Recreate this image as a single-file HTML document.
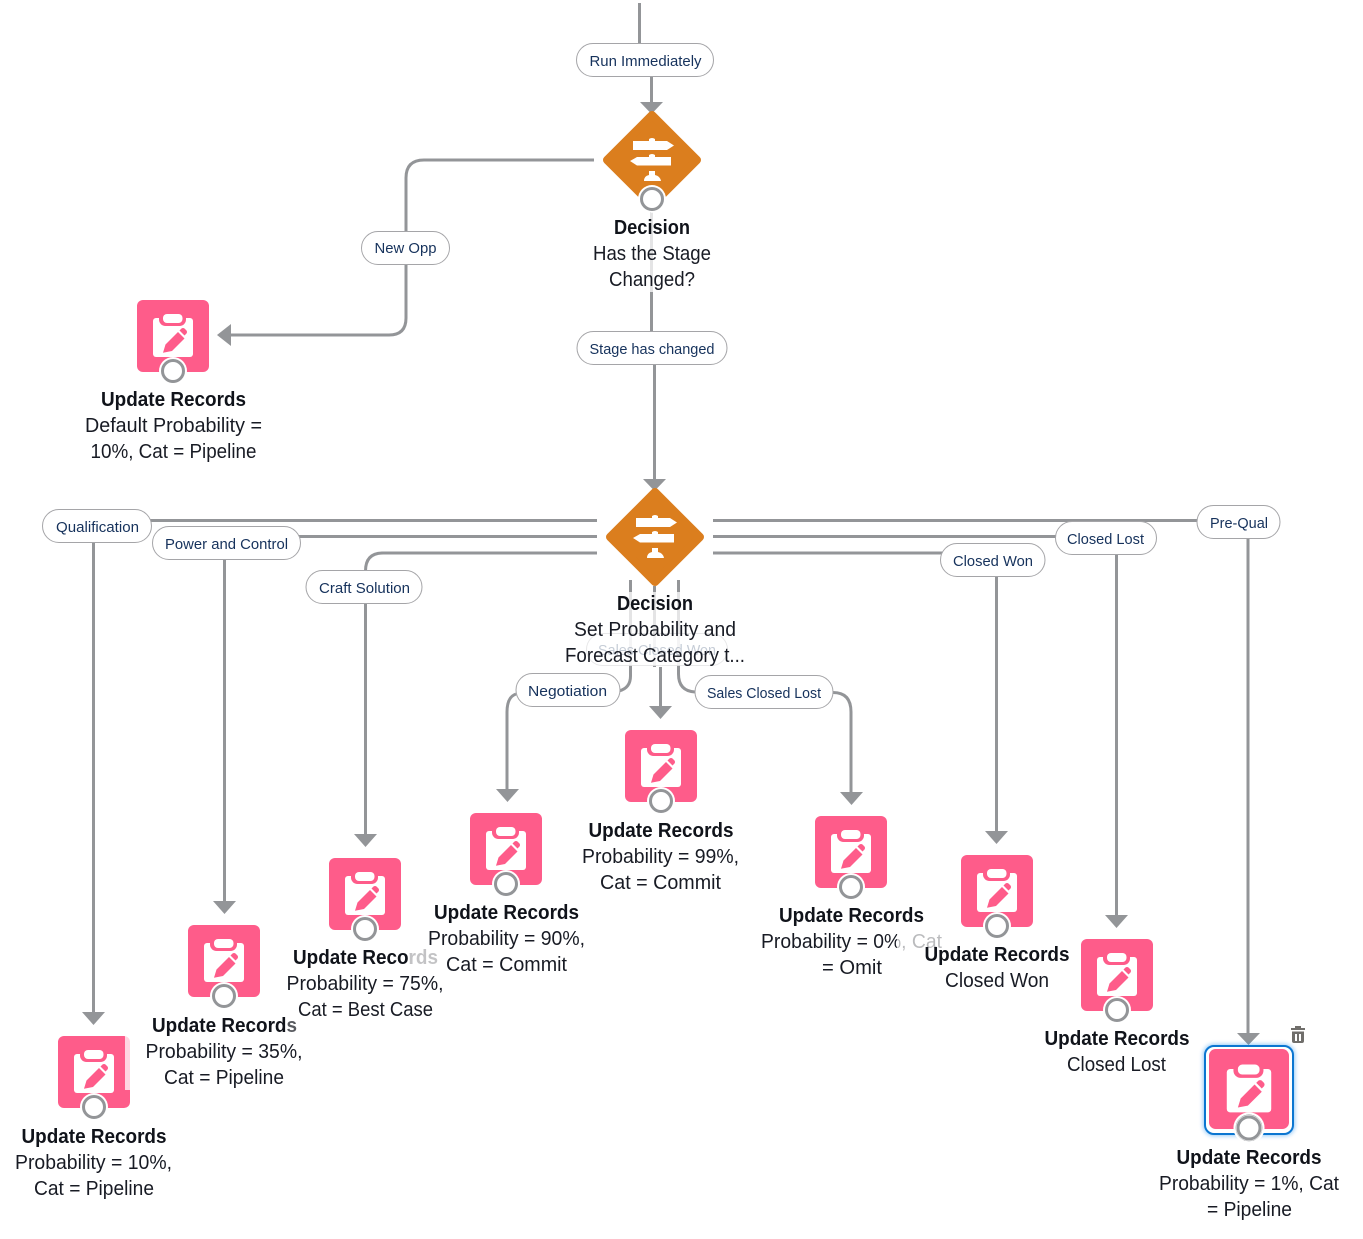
<!DOCTYPE html>
<html><head><meta charset="utf-8"><style>
html,body{margin:0;padding:0;background:#fff}
svg{display:block}
text{font-family:"Liberation Sans",sans-serif}
.n{font-size:20px;fill:#181b24;text-anchor:middle}
.b{font-size:20px;font-weight:bold;fill:#10131a;text-anchor:middle}
.p{font-size:14.5px;fill:#16325c;text-anchor:middle}
.c{fill:none;stroke:#939598;stroke-width:3}
.a{fill:#939598}
.pill{fill:#fff;stroke:#a5a5a8;stroke-width:1}
</style></head><body>
<svg width="1363" height="1239" viewBox="0 0 1363 1239" xmlns="http://www.w3.org/2000/svg">
<defs>
<filter id="gl" x="-20%" y="-20%" width="140%" height="140%"><feGaussianBlur stdDeviation="2"/></filter>
<g id="ic">
<rect width="72" height="72" rx="6" fill="#fe5c8a"/>
<rect x="16" y="18" width="40" height="39" rx="3" fill="#fff"/>
<rect x="22" y="10" width="27" height="16" rx="6.500" fill="#fe5c8a"/>
<rect x="26" y="14" width="19.500" height="9" rx="4" fill="#fff"/>
<path d="M26 52.700 L28.500 44.500 L41 32 L47.500 38.500 L35 51 Z" fill="#fe5c8a"/>
<path d="M42.500 30.500 L44.500 28.500 Q46 27.500 47.500 28.500 L49.500 30.500 Q50.500 32 49.500 33.500 L47.500 35.500 Z" fill="#fe5c8a"/>
<circle cx="36" cy="71" r="14" fill="#fff"/>
<circle cx="36" cy="71" r="10.500" fill="#fff" stroke="#939598" stroke-width="3"/>
</g>
<g id="dm">
<polygon points="0,-45 45,0 0,45 -45,0" fill="#db7e1e" stroke="#db7e1e" stroke-width="8" stroke-linejoin="round"/>
<path d="M-19 -19 H-3 V-21 Q0 -23 3 -21 V-19 H15 L22 -14.500 L15 -10 H-19 Z" fill="#fff"/>
<path d="M-15 -3 H-3 V-5 Q0 -7 3 -5 V-3 H19 V5.500 H-15 L-22 1 Z" fill="#fff"/>
<path d="M-3 11 H3 V15 Q8 16 9 21 H-8 Q-8 16 -3 15 Z" fill="#fff"/>
</g>
</defs>

<!-- connectors -->
<path class="c" d="M639.500 3 V44"/>
<path class="c" d="M651.500 76 V104"/>
<polygon class="a" points="640,102 663,102 651.500,114"/>
<path class="c" d="M594 160 H424 Q406 160 406 178 V318 Q406 335 389 335 H230"/>
<polygon class="a" points="217,335 231,324 231,346"/>
<path class="c" d="M651.500 208 V332" />
<path class="c" d="M654.500 364 V480"/>
<polygon class="a" points="643,479 666,479 654.500,491"/>

<path class="c" d="M597 520.500 H100 M597 536.500 H230 M597 553 H383 Q365.500 553 365.500 571"/>
<path class="c" d="M93.500 542 V1013"/>
<polygon class="a" points="82,1012 105,1012 93.500,1025"/>
<path class="c" d="M224.500 559 V902"/>
<polygon class="a" points="213,901 236,901 224.500,914"/>
<path class="c" d="M365.500 603 V835"/>
<polygon class="a" points="354,834 377,834 365.500,847"/>

<path class="c" d="M713 520.500 H1248 V1034"/>
<polygon class="a" points="1237,1033 1260,1033 1248.500,1045"/>
<path class="c" d="M713 536.500 H1116.500 V916"/>
<polygon class="a" points="1105,915 1128,915 1116.500,928"/>
<path class="c" d="M713 553 H996.500 V832"/>
<polygon class="a" points="985,831 1008,831 996.500,844"/>

<path class="c" d="M630.500 580 V676 Q630.500 688 619 691"/>
<path class="c" d="M516 694 Q507 697 507 712 V790"/>
<polygon class="a" points="496,789 519,789 507.500,802"/>
<path class="c" d="M654.500 586 V667"/>
<path class="c" d="M660.500 667 V707"/>
<polygon class="a" points="649,706 672,706 660.500,719"/>
<path class="c" d="M678.500 580 V674 Q678.500 691 695 692"/>
<path class="c" d="M833 692.500 Q851 692.500 851 712 V793"/>
<polygon class="a" points="840,792 863,792 851.500,805"/>

<!-- fade overlays for hidden connector stretches -->
<rect x="626" y="592" width="57" height="74" fill="#fff" fill-opacity=".75"/>
<rect x="646" y="213" width="11" height="79" fill="#fff" fill-opacity=".75"/>
<rect x="586.500" y="633.500" width="141" height="32" rx="16" fill="#fff" fill-opacity=".6" stroke="#a5a5a8" stroke-opacity=".25"/>
<text class="p" x="657" y="655" textLength="118" lengthAdjust="spacingAndGlyphs" style="fill-opacity:.25">Sales Closed Won</text>

<!-- pills -->
<rect class="pill" x="576.500" y="43.500" width="137" height="33" rx="16.500"/>
<text class="p" x="645.500" y="66" textLength="112" lengthAdjust="spacingAndGlyphs">Run Immediately</text>
<rect class="pill" x="361.500" y="231.500" width="88" height="33" rx="16.500"/>
<text class="p" x="405.500" y="253" textLength="62" lengthAdjust="spacingAndGlyphs">New Opp</text>
<rect class="pill" x="577" y="331.500" width="150" height="33" rx="16.500"/>
<text class="p" x="652" y="354" textLength="125" lengthAdjust="spacingAndGlyphs">Stage has changed</text>
<rect class="pill" x="42.500" y="509.500" width="109" height="33" rx="16.500"/>
<text class="p" x="97.500" y="532" textLength="83" lengthAdjust="spacingAndGlyphs">Qualification</text>
<rect class="pill" x="152.500" y="526.500" width="148" height="33" rx="16.500"/>
<text class="p" x="226.500" y="549" textLength="123" lengthAdjust="spacingAndGlyphs">Power and Control</text>
<rect class="pill" x="306" y="570.500" width="116" height="33" rx="16.500"/>
<text class="p" x="364.500" y="593" textLength="91" lengthAdjust="spacingAndGlyphs">Craft Solution</text>
<rect class="pill" x="516" y="673.500" width="104" height="33" rx="16.500"/>
<text class="p" x="567.500" y="696" textLength="79" lengthAdjust="spacingAndGlyphs">Negotiation</text>
<rect class="pill" x="695" y="675.500" width="138" height="33" rx="16.500"/>
<text class="p" x="764" y="698" textLength="114" lengthAdjust="spacingAndGlyphs">Sales Closed Lost</text>
<rect class="pill" x="940.500" y="543.500" width="104.500" height="33" rx="16.500"/>
<text class="p" x="993" y="566" textLength="80" lengthAdjust="spacingAndGlyphs">Closed Won</text>
<rect class="pill" x="1055.500" y="521.500" width="101" height="33" rx="16.500"/>
<text class="p" x="1105.500" y="544" textLength="77" lengthAdjust="spacingAndGlyphs">Closed Lost</text>
<rect class="pill" x="1197" y="505.500" width="83" height="33" rx="16.500"/>
<text class="p" x="1239" y="528" textLength="58" lengthAdjust="spacingAndGlyphs">Pre-Qual</text>

<!-- decisions -->
<use href="#dm" x="652" y="160"/>
<circle cx="652" cy="199" r="14" fill="#fff"/>
<circle cx="652" cy="199" r="10.500" fill="#fff" stroke="#939598" stroke-width="3"/>
<use href="#dm" x="655" y="537"/>
<text class="b" x="652" y="234" textLength="76" lengthAdjust="spacingAndGlyphs">Decision</text>
<text class="n" x="652" y="260" textLength="118" lengthAdjust="spacingAndGlyphs">Has the Stage</text>
<text class="n" x="652" y="286" textLength="86" lengthAdjust="spacingAndGlyphs">Changed?</text>
<text class="b" x="655" y="610" textLength="76" lengthAdjust="spacingAndGlyphs">Decision</text>
<text class="n" x="655" y="636" textLength="162" lengthAdjust="spacingAndGlyphs">Set Probability and</text>
<text class="n" x="655" y="662" textLength="180" lengthAdjust="spacingAndGlyphs">Forecast Category t...</text>

<!-- record nodes -->
<use href="#ic" x="137" y="300"/>
<text class="b" x="173.500" y="406" textLength="145" lengthAdjust="spacingAndGlyphs">Update Records</text>
<text class="n" x="173.500" y="432" textLength="177" lengthAdjust="spacingAndGlyphs">Default Probability =</text>
<text class="n" x="173.500" y="458" textLength="166" lengthAdjust="spacingAndGlyphs">10%, Cat = Pipeline</text>

<use href="#ic" x="58" y="1036"/>
<rect x="125" y="1036" width="6" height="54" fill="#fff" fill-opacity=".75"/>
<text class="b" x="94" y="1143" textLength="145" lengthAdjust="spacingAndGlyphs">Update Records</text>
<text class="n" x="93.500" y="1169" textLength="157" lengthAdjust="spacingAndGlyphs">Probability = 10%,</text>
<text class="n" x="94" y="1195" textLength="120" lengthAdjust="spacingAndGlyphs">Cat = Pipeline</text>

<use href="#ic" x="188" y="925"/>
<text class="b" x="224.500" y="1032" textLength="145" lengthAdjust="spacingAndGlyphs">Update Records</text>
<text class="n" x="224" y="1058" textLength="157" lengthAdjust="spacingAndGlyphs">Probability = 35%,</text>
<text class="n" x="224" y="1084" textLength="120" lengthAdjust="spacingAndGlyphs">Cat = Pipeline</text>
<rect x="286" y="1014" width="14" height="22" fill="#fff" fill-opacity=".3"/>

<use href="#ic" x="329" y="858"/>
<text class="b" x="365.500" y="964" textLength="145" lengthAdjust="spacingAndGlyphs">Update Records</text>
<text class="n" x="365" y="990" textLength="157" lengthAdjust="spacingAndGlyphs">Probability = 75%,</text>
<text class="n" x="365.500" y="1016" textLength="135" lengthAdjust="spacingAndGlyphs">Cat = Best Case</text>
<rect x="410" y="945" width="30" height="25" fill="#fff" fill-opacity=".75"/>

<use href="#ic" x="470" y="813"/>
<text class="b" x="506.500" y="919" textLength="145" lengthAdjust="spacingAndGlyphs">Update Records</text>
<text class="n" x="506.500" y="945" textLength="157" lengthAdjust="spacingAndGlyphs">Probability = 90%,</text>
<text class="n" x="506.500" y="971" textLength="121" lengthAdjust="spacingAndGlyphs">Cat = Commit</text>

<use href="#ic" x="625" y="730"/>
<text class="b" x="661" y="837" textLength="145" lengthAdjust="spacingAndGlyphs">Update Records</text>
<text class="n" x="660.500" y="863" textLength="157" lengthAdjust="spacingAndGlyphs">Probability = 99%,</text>
<text class="n" x="660.500" y="889" textLength="121" lengthAdjust="spacingAndGlyphs">Cat = Commit</text>

<use href="#ic" x="815" y="816"/>
<text class="b" x="851.500" y="922" textLength="145" lengthAdjust="spacingAndGlyphs">Update Records</text>
<text class="n" x="851.500" y="948" textLength="181" lengthAdjust="spacingAndGlyphs">Probability = 0%, Cat</text>
<text class="n" x="852" y="974" textLength="60" lengthAdjust="spacingAndGlyphs">= Omit</text>
<rect x="897" y="930" width="48" height="24" fill="#fff" fill-opacity=".7"/>

<use href="#ic" x="961" y="855"/>
<text class="b" x="997" y="961" textLength="145" lengthAdjust="spacingAndGlyphs">Update Records</text>
<text class="n" x="997" y="987" textLength="104" lengthAdjust="spacingAndGlyphs">Closed Won</text>

<use href="#ic" x="1081" y="939"/>
<text class="b" x="1117" y="1045" textLength="145" lengthAdjust="spacingAndGlyphs">Update Records</text>
<text class="n" x="1116.500" y="1071" textLength="99" lengthAdjust="spacingAndGlyphs">Closed Lost</text>

<!-- selected -->
<rect x="1203" y="1044" width="92" height="92" rx="11" fill="#1589ee" opacity=".45" filter="url(#gl)"/>
<rect x="1205" y="1046" width="88" height="88" rx="9" fill="#fff" stroke="#0b76d1" stroke-width="2"/>
<use href="#ic" transform="translate(1209 1049) scale(1.1111)"/>
<circle cx="1249" cy="1128" r="13" fill="#fff"/>
<circle cx="1249" cy="1128" r="11" fill="#fff" stroke="#939598" stroke-width="3"/>
<text class="b" x="1249" y="1164" textLength="145" lengthAdjust="spacingAndGlyphs">Update Records</text>
<text class="n" x="1249" y="1190" textLength="180" lengthAdjust="spacingAndGlyphs">Probability = 1%, Cat</text>
<text class="n" x="1249.500" y="1216" textLength="85" lengthAdjust="spacingAndGlyphs">= Pipeline</text>

<!-- trash -->
<path d="M1295 1026 H1301 V1028 H1305 V1030 H1291 V1028 H1295 Z" fill="#706e6b"/>
<path d="M1292 1031.500 H1304 V1041 Q1304 1043 1302 1043 H1294 Q1292 1043 1292 1041 Z M1295 1034 V1041 H1297 V1034 Z M1299 1034 V1041 H1301 V1034 Z" fill="#706e6b" fill-rule="evenodd"/>
</svg>
</body></html>
